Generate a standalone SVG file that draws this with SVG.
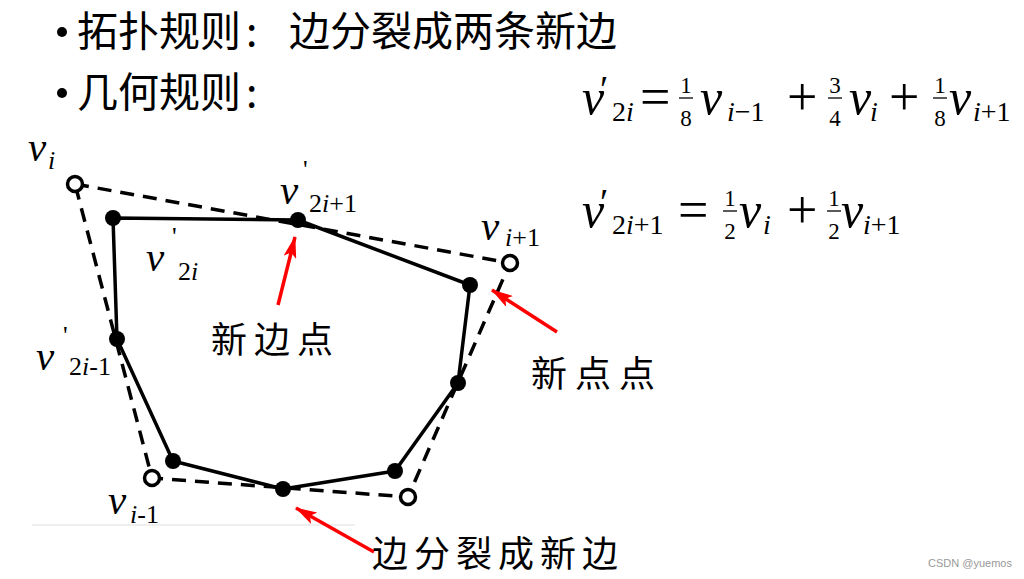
<svg xmlns="http://www.w3.org/2000/svg" width="1024" height="579" viewBox="0 0 1024 579">
<defs>
<style>
.title{font-family:"Noto Sans CJK SC","Noto Sans",sans-serif;font-size:41px;fill:#000}
.cn{font-family:"Noto Sans CJK SC",sans-serif;font-size:36px;fill:#000}
.fv,.fo,.ff,.lv{font-family:"Liberation Serif","Times New Roman",serif;fill:#000}
.fv{font-size:50px;font-style:italic}
.fo{font-size:54px}
.ff{font-size:23px}
.lv{font-size:41px;font-style:italic}
.fsub{font-size:28px;font-style:normal}
.fpr{font-size:38px;font-style:normal}
.lsub{font-size:26px;font-style:normal}
.lpr{font-size:26px;font-style:normal}
.it{font-style:italic}
.dash{fill:none;stroke:#000;stroke-width:3.5;stroke-dasharray:14 9}
.solid{fill:none;stroke:#000;stroke-width:3.5;stroke-linejoin:round}
.open{fill:#fff;stroke:#000;stroke-width:3.5}
.dot{fill:#000}
.red{stroke:#ff0000;stroke-width:3.5;fill:none}
.bar{stroke:#000;stroke-width:1.3}
</style>
<marker id="ah" viewBox="0 0 22 13" refX="21" refY="6.5" markerWidth="22" markerHeight="13" orient="auto" markerUnits="userSpaceOnUse">
<path d="M0,0 L22,6.5 L0,13 L5,6.5 Z" fill="#ff0000"/>
</marker>
</defs>
<rect width="1024" height="579" fill="#fff"/>

<g id="titles">
<circle cx="62" cy="32" r="5" fill="#000"/>
<text class="title" y="46"><tspan x="77">拓扑规则</tspan><tspan x="246">:</tspan><tspan x="289">边分裂成两条新边</tspan></text>
<circle cx="62" cy="93" r="5" fill="#000"/>
<text class="title" y="107"><tspan x="77">几何规则</tspan><tspan x="246">:</tspan></text>
</g>

<g id="formula1">
<text class="fv" x="582" y="114">v<tspan class="fpr" x="600" y="102">′</tspan><tspan class="fsub" x="612" y="121">2<tspan class="it">i</tspan></tspan></text>
<text class="fo" x="640" y="115">=</text>
<text class="ff" x="686" y="93" text-anchor="middle">1</text>
<line class="bar" x1="679" y1="98" x2="693" y2="98"/>
<text class="ff" x="686" y="126" text-anchor="middle">8</text>
<text class="fv" x="700" y="114">v<tspan class="fsub" x="727" y="121"><tspan class="it">i</tspan>−1</tspan></text>
<text class="fo" x="787" y="115">+</text>
<text class="ff" x="835" y="93" text-anchor="middle">3</text>
<line class="bar" x1="828" y1="98" x2="842" y2="98"/>
<text class="ff" x="835" y="126" text-anchor="middle">4</text>
<text class="fv" x="849" y="114">v<tspan class="fsub" x="870" y="121"><tspan class="it">i</tspan></tspan></text>
<text class="fo" x="889" y="115">+</text>
<text class="ff" x="940" y="93" text-anchor="middle">1</text>
<line class="bar" x1="933" y1="98" x2="947" y2="98"/>
<text class="ff" x="940" y="126" text-anchor="middle">8</text>
<text class="fv" x="949" y="114">v<tspan class="fsub" x="973" y="121"><tspan class="it">i</tspan>+1</tspan></text>
</g>

<g id="formula2">
<text class="fv" x="582" y="227">v<tspan class="fpr" x="600" y="215">′</tspan><tspan class="fsub" x="612" y="234">2<tspan class="it">i</tspan>+1</tspan></text>
<text class="fo" x="678" y="228">=</text>
<text class="ff" x="730" y="206" text-anchor="middle">1</text>
<line class="bar" x1="723" y1="211" x2="737" y2="211"/>
<text class="ff" x="730" y="239" text-anchor="middle">2</text>
<text class="fv" x="739" y="227">v<tspan class="fsub" x="763" y="234"><tspan class="it">i</tspan></tspan></text>
<text class="fo" x="787" y="228">+</text>
<text class="ff" x="834" y="206" text-anchor="middle">1</text>
<line class="bar" x1="827" y1="211" x2="841" y2="211"/>
<text class="ff" x="834" y="239" text-anchor="middle">2</text>
<text class="fv" x="841" y="227">v<tspan class="fsub" x="863" y="234"><tspan class="it">i</tspan>+1</tspan></text>
</g>

<line x1="32" y1="525" x2="355" y2="525" stroke="#efefef" stroke-width="2"/>

<g id="connectors">
<polygon class="dash" points="75,184 510,263 408,497 152,478"/>
<polygon class="solid" points="113,218 298,220 470,285 458,383 395,471 283,489 173,461 117,339"/>
<line class="red" x1="278" y1="305" x2="295" y2="237" marker-end="url(#ah)"/>
<line class="red" x1="557" y1="332" x2="492" y2="290" marker-end="url(#ah)"/>
<line class="red" x1="374" y1="552" x2="296" y2="508" marker-end="url(#ah)"/>
</g>

<g id="v-i"><circle class="open" cx="75" cy="184" r="7.5"/></g>
<g id="v-i1"><circle class="open" cx="510" cy="263" r="7.5"/></g>
<g id="v-im1"><circle class="open" cx="152" cy="478" r="7.5"/></g>
<g id="v-i2"><circle class="open" cx="408" cy="497" r="7.5"/></g>

<g id="p-2i"><circle class="dot" cx="113" cy="218" r="8"/></g>
<g id="p-2i1"><circle class="dot" cx="298" cy="220" r="8"/></g>
<g id="p-3"><circle class="dot" cx="470" cy="285" r="8"/></g>
<g id="p-4"><circle class="dot" cx="458" cy="383" r="8"/></g>
<g id="p-5"><circle class="dot" cx="395" cy="471" r="8"/></g>
<g id="p-6"><circle class="dot" cx="283" cy="489" r="8"/></g>
<g id="p-7"><circle class="dot" cx="173" cy="461" r="8"/></g>
<g id="p-2im1"><circle class="dot" cx="117" cy="339" r="8"/></g>

<g id="labels">
<text class="lv" x="28" y="161">v<tspan class="lsub" x="48" y="169"><tspan class="it">i</tspan></tspan></text>
<text class="lv" x="280" y="204">v<tspan class="lpr" x="303" y="178">'</tspan><tspan class="lsub" x="309" y="212">2<tspan class="it">i</tspan>+1</tspan></text>
<text class="lv" x="146" y="271">v<tspan class="lpr" x="172" y="245">'</tspan><tspan class="lsub" x="178" y="280">2<tspan class="it">i</tspan></tspan></text>
<text class="lv" x="36" y="370">v<tspan class="lpr" x="63" y="344">'</tspan><tspan class="lsub" x="69" y="375">2<tspan class="it">i</tspan>-1</tspan></text>
<text class="lv" x="481" y="240">v<tspan class="lsub" x="505" y="246"><tspan class="it">i</tspan>+1</tspan></text>
<text class="lv" x="108" y="514">v<tspan class="lsub" x="130" y="523"><tspan class="it">i</tspan>-1</tspan></text>
</g>

<g id="notes">
<text class="cn" x="211" y="353" letter-spacing="7">新边点</text>
<text class="cn" x="531" y="387" letter-spacing="8">新点点</text>
<text class="cn" x="372" y="567" letter-spacing="6">边分裂成新边</text>
</g>

<text x="928" y="567" font-family="Liberation Sans, Arial, sans-serif" font-size="11" fill="#999">CSDN @yuemos</text>
</svg>
